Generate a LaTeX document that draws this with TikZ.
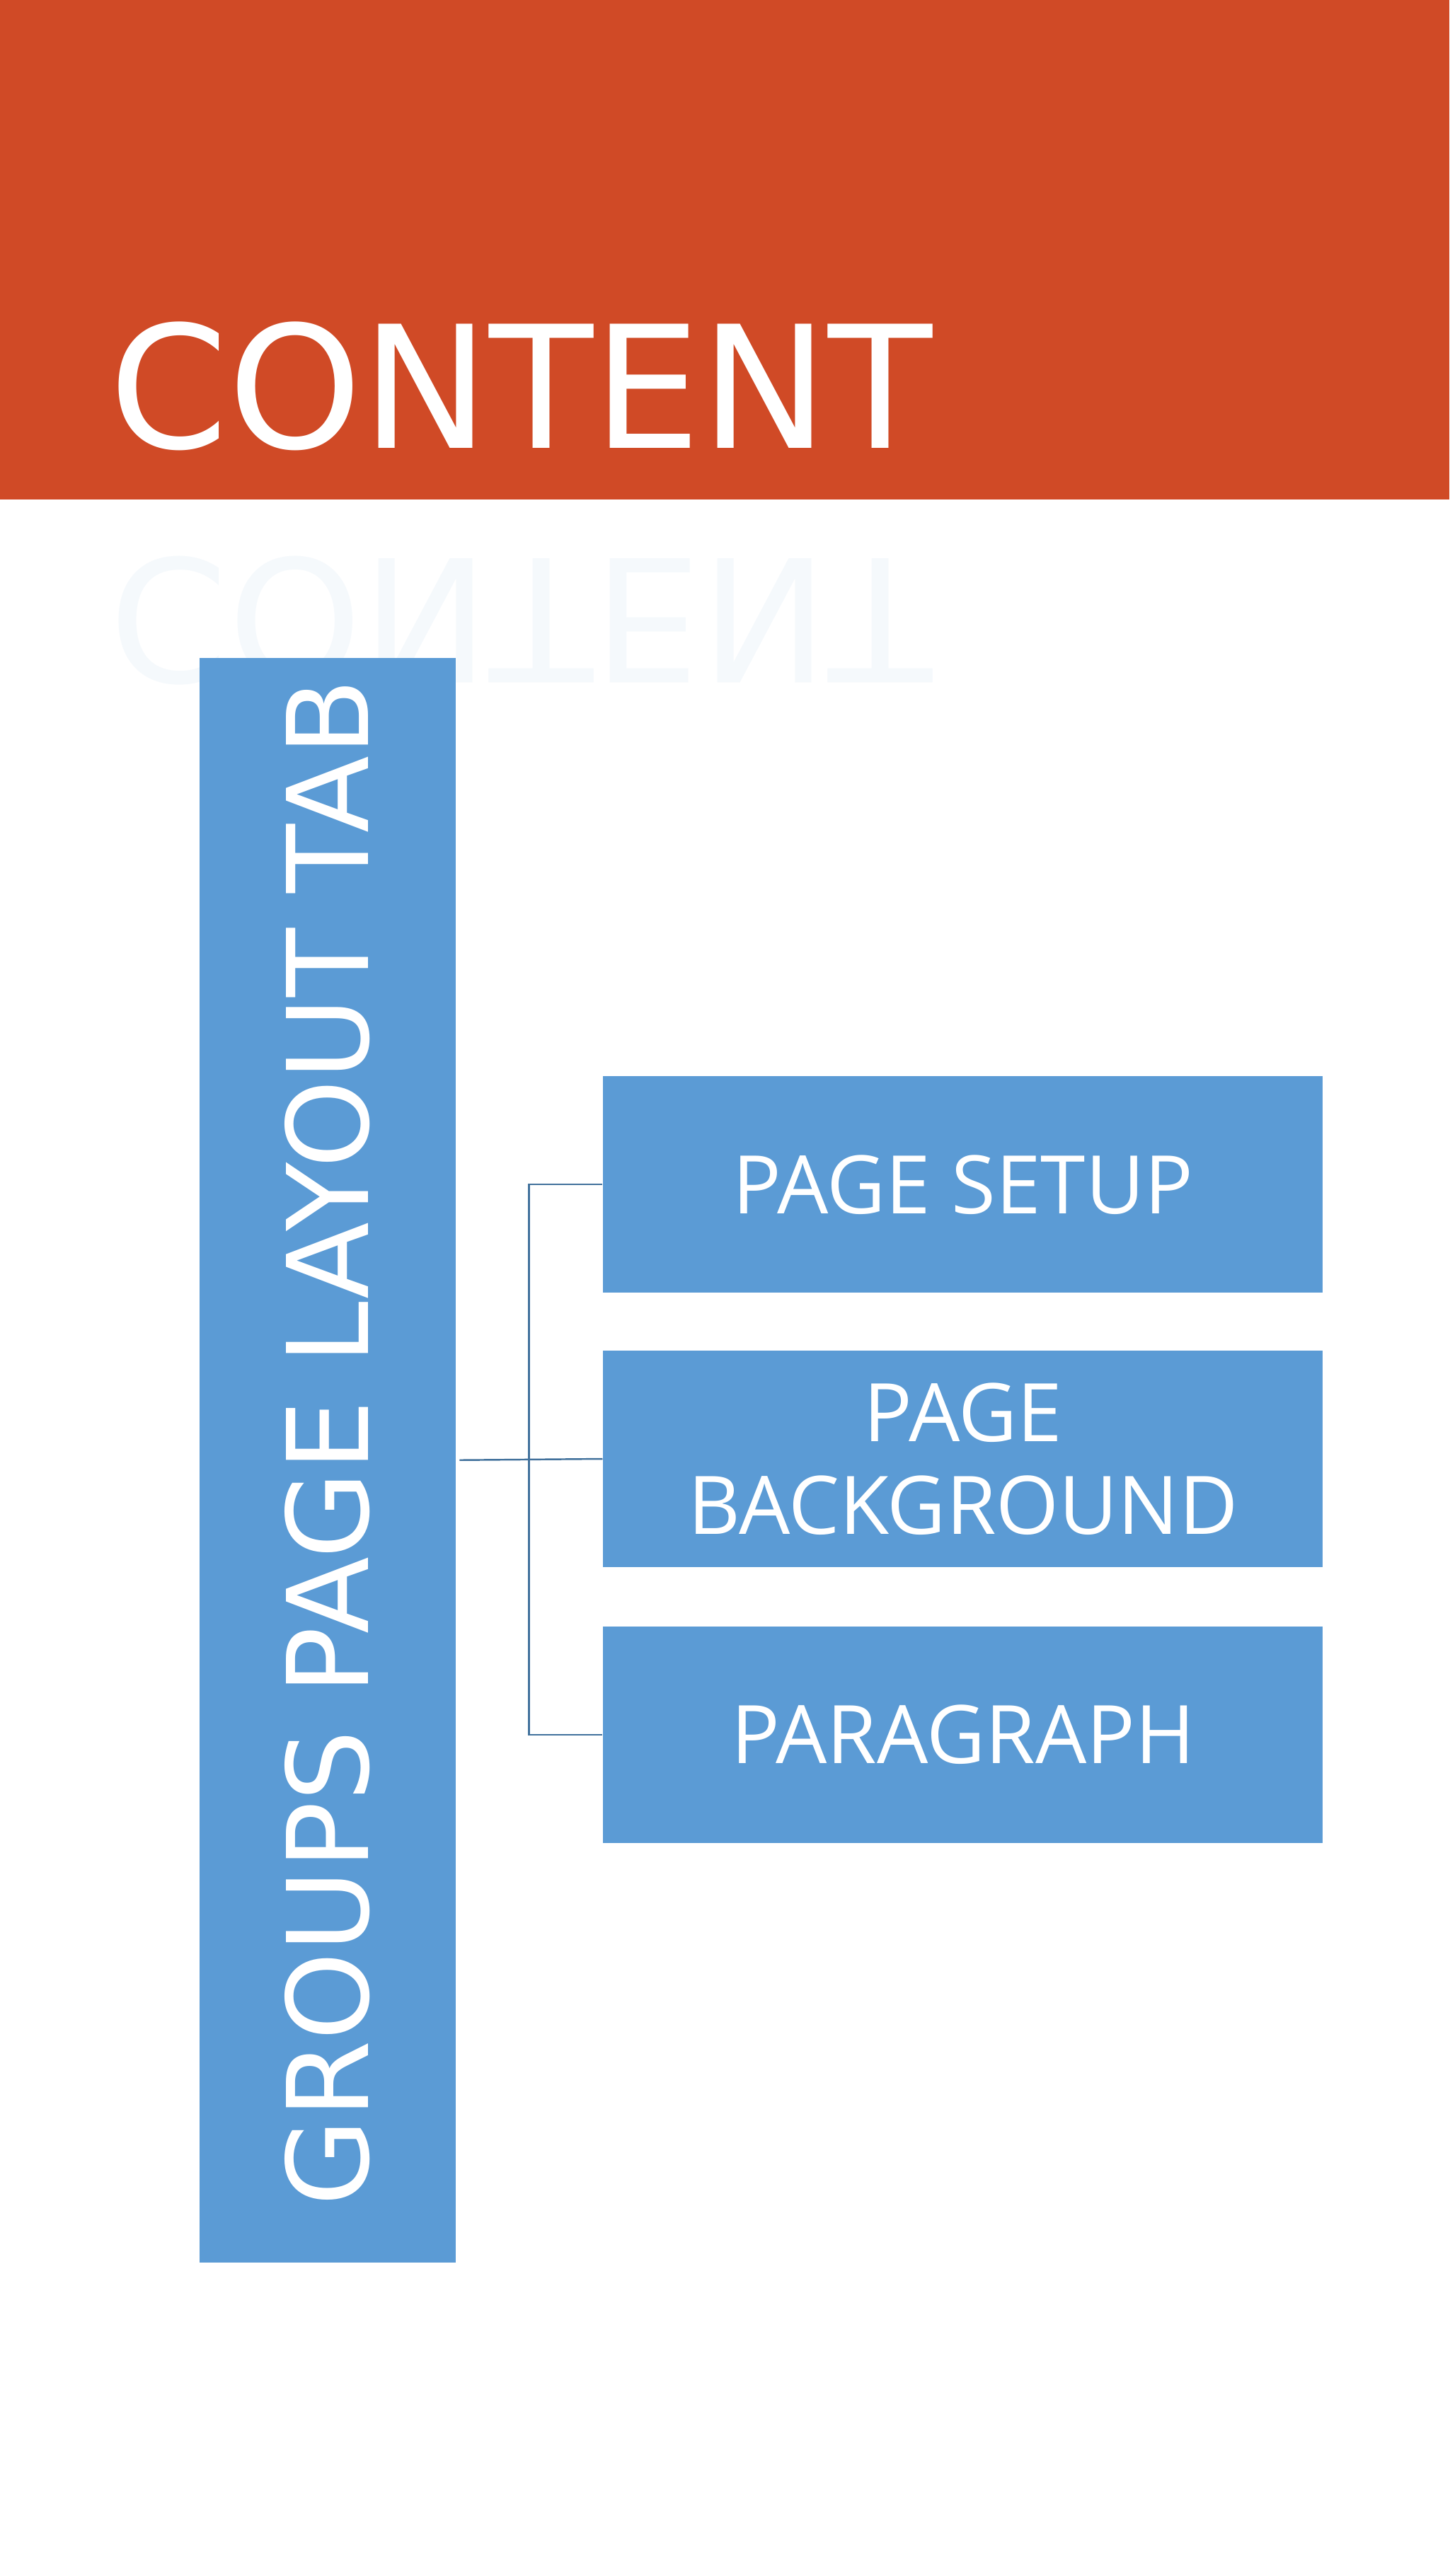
\documentclass[tikz,border=0pt]{standalone}
\usepackage{fontspec}
\setmainfont{DejaVu Sans}
\newfontfamily\boxfont{Open Sans}
\definecolor{band}{HTML}{D04A26}
\definecolor{blk}{HTML}{5B9BD5}
\definecolor{lnk}{HTML}{41719C}
\tikzset{x=0.02cm,y=-0.02cm,
 itembox/.style={fill=blk,draw=none,minimum width=8.76cm,minimum height=2.64cm,text=white,align=center,font=\boxfont\fontsize{28}{34}\selectfont},
 conn/.style={draw=lnk,line width=0.6pt}}
\begin{document}
\begin{tikzpicture}
\useasboundingbox (0,0) rectangle (882,1568);
\fill[white] (0,0) rectangle (882,1568);
\fill[band] (0,0) rectangle (882,304);
\node[anchor=base west,text=white,inner sep=0,font=\fontsize{59}{60}\selectfont] (title) at (66,273) {CONTENT};
\node[anchor=base west,text=blk,opacity=0.06,inner sep=0,yscale=-1,font=\fontsize{59}{60}\selectfont] (refl) at (66,340) {CONTENT};
\node[fill=blk,minimum width=3.12cm,minimum height=19.54cm,inner sep=0,anchor=north west] (main) at (121,400) {};
\node[rotate=90,text=white,font=\fontsize{39}{40}\selectfont] (mt) at (199,878) {GROUPS PAGE LAYOUT TAB};
\node[itembox] (b1) at (586,721) {PAGE SETUP};
\node[itembox] (b2) at (586,888) {PAGE\\[-2pt]BACKGROUND};
\node[itembox] (b3) at (586,1056) {PARAGRAPH};
\coordinate (j) at (322,888);
\draw[conn] (main.east) ++(2,0) -- (b2.west);
\draw[conn] (b1.west) -- (j |- b1.west) -- (j |- b3.west) -- (b3.west);
\end{tikzpicture}
\end{document}
